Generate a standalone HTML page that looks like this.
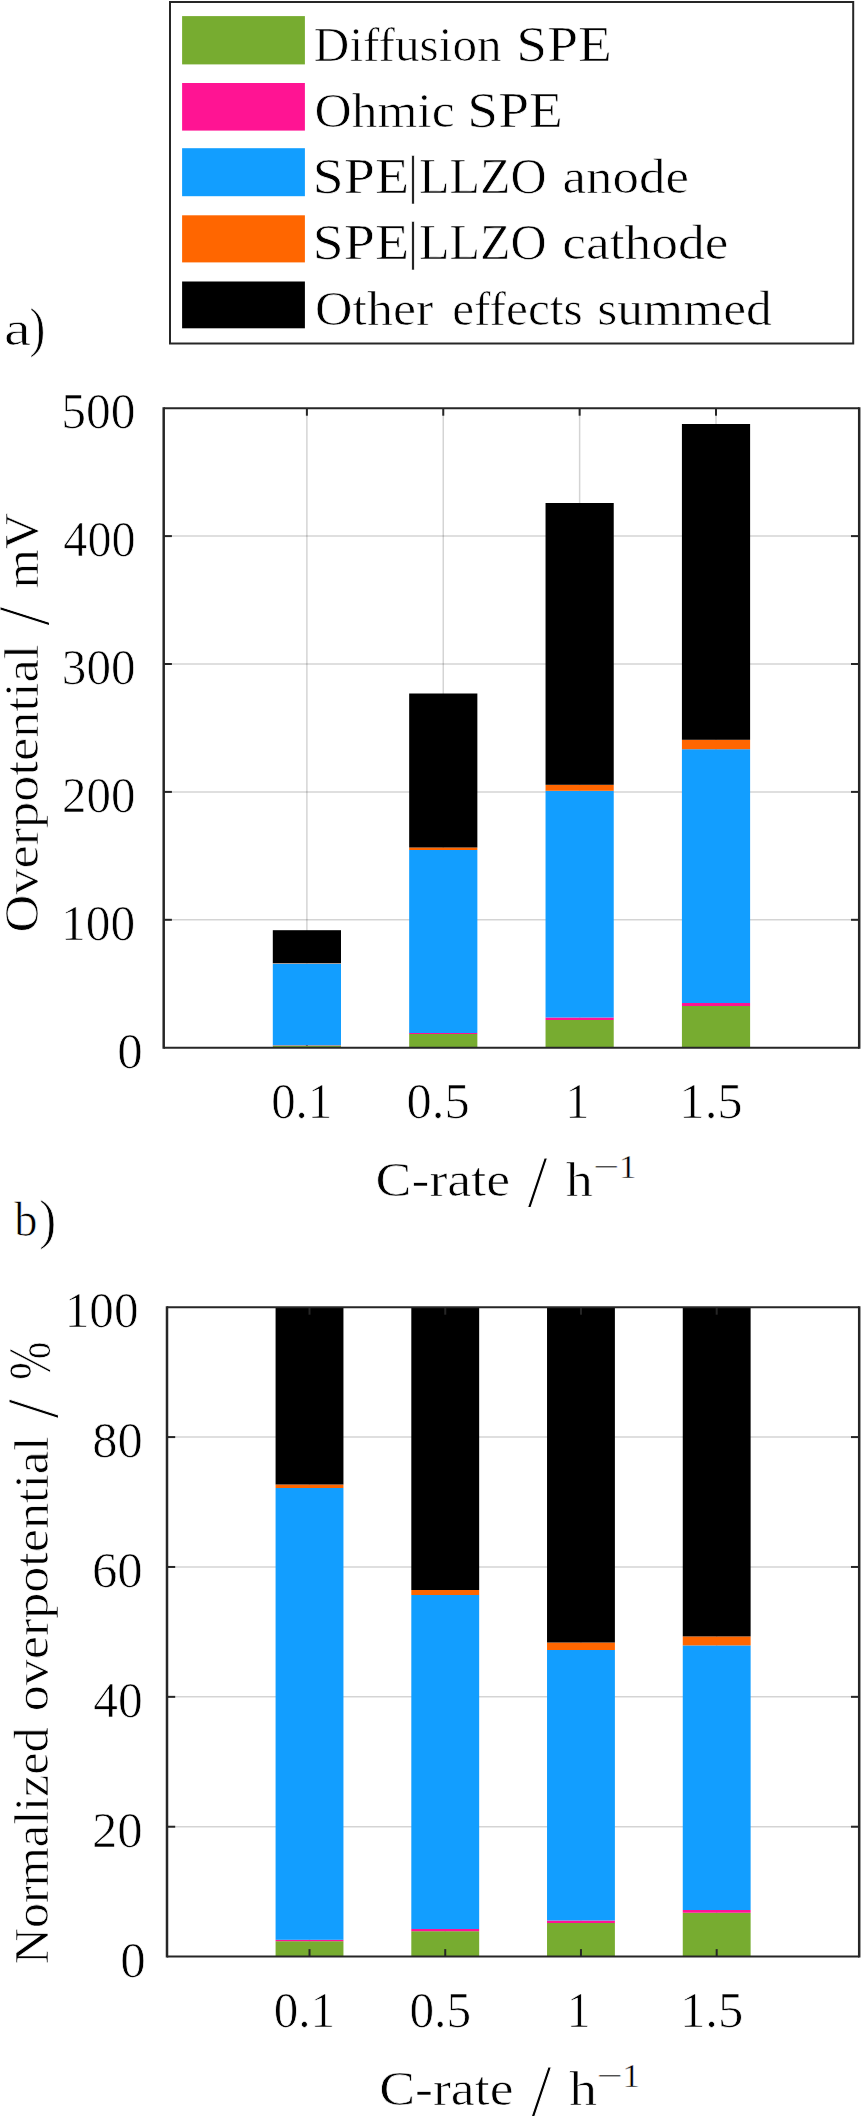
<!DOCTYPE html>
<html lang="en"><head><meta charset="utf-8"><title>Overpotential contributions</title>
<style>
html,body{margin:0;padding:0;background:#fff;}
svg{display:block}
text{font-family:"Liberation Serif", "DejaVu Serif", serif;fill:#000;stroke:#fff;stroke-width:0.7px;}
</style></head>
<body>
<svg width="862" height="2118" viewBox="0 0 862 2118">
<rect width="862" height="2118" fill="#fff"/>
<rect x="170.0" y="2.0" width="683.2" height="341.5" fill="#fff" stroke="#262626" stroke-width="2"/>
<rect x="182.10" y="16.10" width="122.80" height="48.30" fill="#77AC30"/>
<rect x="182.10" y="83.00" width="122.80" height="47.60" fill="#FF1493"/>
<rect x="182.10" y="148.20" width="122.80" height="48.00" fill="#129EFF"/>
<rect x="182.10" y="215.30" width="122.80" height="47.10" fill="#FF6600"/>
<rect x="182.10" y="281.50" width="122.80" height="46.80" fill="#000000"/>
<line x1="163.70" y1="919.80" x2="859.20" y2="919.80" stroke="#000" stroke-opacity="0.17" stroke-width="1.5"/>
<line x1="163.70" y1="791.90" x2="859.20" y2="791.90" stroke="#000" stroke-opacity="0.17" stroke-width="1.5"/>
<line x1="163.70" y1="664.00" x2="859.20" y2="664.00" stroke="#000" stroke-opacity="0.17" stroke-width="1.5"/>
<line x1="163.70" y1="536.10" x2="859.20" y2="536.10" stroke="#000" stroke-opacity="0.17" stroke-width="1.5"/>
<line x1="306.89" y1="408.20" x2="306.89" y2="1047.70" stroke="#000" stroke-opacity="0.17" stroke-width="1.5"/>
<line x1="443.26" y1="408.20" x2="443.26" y2="1047.70" stroke="#000" stroke-opacity="0.17" stroke-width="1.5"/>
<line x1="579.64" y1="408.20" x2="579.64" y2="1047.70" stroke="#000" stroke-opacity="0.17" stroke-width="1.5"/>
<line x1="716.01" y1="408.20" x2="716.01" y2="1047.70" stroke="#000" stroke-opacity="0.17" stroke-width="1.5"/>
<line x1="306.89" y1="1040.20" x2="306.89" y2="1047.70" stroke="#262626" stroke-width="2"/>
<line x1="443.26" y1="1040.20" x2="443.26" y2="1047.70" stroke="#262626" stroke-width="2"/>
<line x1="579.64" y1="1040.20" x2="579.64" y2="1047.70" stroke="#262626" stroke-width="2"/>
<line x1="716.01" y1="1040.20" x2="716.01" y2="1047.70" stroke="#262626" stroke-width="2"/>
<rect x="272.80" y="1045.50" width="68.19" height="2.20" fill="#77AC30"/>
<rect x="272.80" y="1045.20" width="68.19" height="0.30" fill="#FF1493"/>
<rect x="272.80" y="963.40" width="68.19" height="81.80" fill="#129EFF"/>
<rect x="272.80" y="963.00" width="68.19" height="0.40" fill="#FF6600"/>
<rect x="272.80" y="930.20" width="68.19" height="32.80" fill="#000000"/>
<rect x="409.17" y="1034.00" width="68.19" height="13.70" fill="#77AC30"/>
<rect x="409.17" y="1033.00" width="68.19" height="1.00" fill="#FF1493"/>
<rect x="409.17" y="850.00" width="68.19" height="183.00" fill="#129EFF"/>
<rect x="409.17" y="847.50" width="68.19" height="2.50" fill="#FF6600"/>
<rect x="409.17" y="693.50" width="68.19" height="154.00" fill="#000000"/>
<rect x="545.54" y="1020.00" width="68.19" height="27.70" fill="#77AC30"/>
<rect x="545.54" y="1017.50" width="68.19" height="2.50" fill="#FF1493"/>
<rect x="545.54" y="790.80" width="68.19" height="226.70" fill="#129EFF"/>
<rect x="545.54" y="784.80" width="68.19" height="6.00" fill="#FF6600"/>
<rect x="545.54" y="503.00" width="68.19" height="281.80" fill="#000000"/>
<rect x="681.92" y="1006.00" width="68.19" height="41.70" fill="#77AC30"/>
<rect x="681.92" y="1003.00" width="68.19" height="3.00" fill="#FF1493"/>
<rect x="681.92" y="749.20" width="68.19" height="253.80" fill="#129EFF"/>
<rect x="681.92" y="739.80" width="68.19" height="9.40" fill="#FF6600"/>
<rect x="681.92" y="424.00" width="68.19" height="315.80" fill="#000000"/>
<line x1="163.70" y1="919.80" x2="171.90" y2="919.80" stroke="#262626" stroke-width="2"/>
<line x1="851.00" y1="919.80" x2="859.20" y2="919.80" stroke="#262626" stroke-width="2"/>
<line x1="163.70" y1="791.90" x2="171.90" y2="791.90" stroke="#262626" stroke-width="2"/>
<line x1="851.00" y1="791.90" x2="859.20" y2="791.90" stroke="#262626" stroke-width="2"/>
<line x1="163.70" y1="664.00" x2="171.90" y2="664.00" stroke="#262626" stroke-width="2"/>
<line x1="851.00" y1="664.00" x2="859.20" y2="664.00" stroke="#262626" stroke-width="2"/>
<line x1="163.70" y1="536.10" x2="171.90" y2="536.10" stroke="#262626" stroke-width="2"/>
<line x1="851.00" y1="536.10" x2="859.20" y2="536.10" stroke="#262626" stroke-width="2"/>
<line x1="306.89" y1="408.20" x2="306.89" y2="415.70" stroke="#262626" stroke-width="2"/>
<line x1="443.26" y1="408.20" x2="443.26" y2="415.70" stroke="#262626" stroke-width="2"/>
<line x1="579.64" y1="408.20" x2="579.64" y2="415.70" stroke="#262626" stroke-width="2"/>
<line x1="716.01" y1="408.20" x2="716.01" y2="415.70" stroke="#262626" stroke-width="2"/>
<line x1="163.70" y1="407.20" x2="163.70" y2="1048.70" stroke="#262626" stroke-width="2.5"/>
<line x1="859.20" y1="407.20" x2="859.20" y2="1048.70" stroke="#262626" stroke-width="2.5"/>
<line x1="163.70" y1="408.20" x2="859.20" y2="408.20" stroke="#262626" stroke-width="2"/>
<line x1="163.70" y1="1047.70" x2="859.20" y2="1047.70" stroke="#262626" stroke-width="2"/>
<line x1="167.00" y1="1826.72" x2="859.20" y2="1826.72" stroke="#000" stroke-opacity="0.17" stroke-width="1.5"/>
<line x1="167.00" y1="1696.84" x2="859.20" y2="1696.84" stroke="#000" stroke-opacity="0.17" stroke-width="1.5"/>
<line x1="167.00" y1="1566.96" x2="859.20" y2="1566.96" stroke="#000" stroke-opacity="0.17" stroke-width="1.5"/>
<line x1="167.00" y1="1437.08" x2="859.20" y2="1437.08" stroke="#000" stroke-opacity="0.17" stroke-width="1.5"/>
<line x1="309.51" y1="1307.20" x2="309.51" y2="1956.60" stroke="#000" stroke-opacity="0.17" stroke-width="1.5"/>
<line x1="445.24" y1="1307.20" x2="445.24" y2="1956.60" stroke="#000" stroke-opacity="0.17" stroke-width="1.5"/>
<line x1="580.96" y1="1307.20" x2="580.96" y2="1956.60" stroke="#000" stroke-opacity="0.17" stroke-width="1.5"/>
<line x1="716.69" y1="1307.20" x2="716.69" y2="1956.60" stroke="#000" stroke-opacity="0.17" stroke-width="1.5"/>
<rect x="275.58" y="1941.20" width="67.86" height="15.40" fill="#77AC30"/>
<rect x="275.58" y="1939.80" width="67.86" height="1.40" fill="#FF1493"/>
<rect x="275.58" y="1488.00" width="67.86" height="451.80" fill="#129EFF"/>
<rect x="275.58" y="1484.50" width="67.86" height="3.50" fill="#FF6600"/>
<rect x="275.58" y="1307.20" width="67.86" height="177.30" fill="#000000"/>
<rect x="411.31" y="1931.20" width="67.86" height="25.40" fill="#77AC30"/>
<rect x="411.31" y="1929.00" width="67.86" height="2.20" fill="#FF1493"/>
<rect x="411.31" y="1595.00" width="67.86" height="334.00" fill="#129EFF"/>
<rect x="411.31" y="1590.00" width="67.86" height="5.00" fill="#FF6600"/>
<rect x="411.31" y="1307.20" width="67.86" height="282.80" fill="#000000"/>
<rect x="547.03" y="1923.00" width="67.86" height="33.60" fill="#77AC30"/>
<rect x="547.03" y="1920.50" width="67.86" height="2.50" fill="#FF1493"/>
<rect x="547.03" y="1650.00" width="67.86" height="270.50" fill="#129EFF"/>
<rect x="547.03" y="1642.50" width="67.86" height="7.50" fill="#FF6600"/>
<rect x="547.03" y="1307.20" width="67.86" height="335.30" fill="#000000"/>
<rect x="682.76" y="1912.75" width="67.86" height="43.85" fill="#77AC30"/>
<rect x="682.76" y="1910.00" width="67.86" height="2.75" fill="#FF1493"/>
<rect x="682.76" y="1645.40" width="67.86" height="264.60" fill="#129EFF"/>
<rect x="682.76" y="1636.40" width="67.86" height="9.00" fill="#FF6600"/>
<rect x="682.76" y="1307.20" width="67.86" height="329.20" fill="#000000"/>
<line x1="167.00" y1="1826.72" x2="175.20" y2="1826.72" stroke="#262626" stroke-width="2"/>
<line x1="851.00" y1="1826.72" x2="859.20" y2="1826.72" stroke="#262626" stroke-width="2"/>
<line x1="167.00" y1="1696.84" x2="175.20" y2="1696.84" stroke="#262626" stroke-width="2"/>
<line x1="851.00" y1="1696.84" x2="859.20" y2="1696.84" stroke="#262626" stroke-width="2"/>
<line x1="167.00" y1="1566.96" x2="175.20" y2="1566.96" stroke="#262626" stroke-width="2"/>
<line x1="851.00" y1="1566.96" x2="859.20" y2="1566.96" stroke="#262626" stroke-width="2"/>
<line x1="167.00" y1="1437.08" x2="175.20" y2="1437.08" stroke="#262626" stroke-width="2"/>
<line x1="851.00" y1="1437.08" x2="859.20" y2="1437.08" stroke="#262626" stroke-width="2"/>
<line x1="309.51" y1="1307.20" x2="309.51" y2="1314.70" stroke="#262626" stroke-width="2"/>
<line x1="309.51" y1="1949.10" x2="309.51" y2="1956.60" stroke="#262626" stroke-width="2"/>
<line x1="445.24" y1="1307.20" x2="445.24" y2="1314.70" stroke="#262626" stroke-width="2"/>
<line x1="445.24" y1="1949.10" x2="445.24" y2="1956.60" stroke="#262626" stroke-width="2"/>
<line x1="580.96" y1="1307.20" x2="580.96" y2="1314.70" stroke="#262626" stroke-width="2"/>
<line x1="580.96" y1="1949.10" x2="580.96" y2="1956.60" stroke="#262626" stroke-width="2"/>
<line x1="716.69" y1="1307.20" x2="716.69" y2="1314.70" stroke="#262626" stroke-width="2"/>
<line x1="716.69" y1="1949.10" x2="716.69" y2="1956.60" stroke="#262626" stroke-width="2"/>
<line x1="167.00" y1="1306.20" x2="167.00" y2="1957.60" stroke="#262626" stroke-width="2.5"/>
<line x1="859.20" y1="1306.20" x2="859.20" y2="1957.60" stroke="#262626" stroke-width="2.5"/>
<line x1="167.00" y1="1307.20" x2="859.20" y2="1307.20" stroke="#262626" stroke-width="2"/>
<line x1="167.00" y1="1956.60" x2="859.20" y2="1956.60" stroke="#262626" stroke-width="2"/>
<text transform="matrix(0.9846 0 0 0.9700 313.83 60.50)" font-size="50">Diffusion</text>
<text transform="matrix(1.1101 0 0 1.0200 516.36 60.50)" font-size="50">SPE</text>
<text transform="matrix(1.0296 0 0 0.9700 314.53 126.55)" font-size="50">Ohmic</text>
<text transform="matrix(1.1101 0 0 1.0200 467.26 126.55)" font-size="50">SPE</text>
<text transform="matrix(1.1214 0 0 1.0200 312.62 192.60)" font-size="50">SPE</text>
<text transform="matrix(1.0000 0 0 1.0616 408.10 192.71)" font-size="50">|</text>
<text transform="matrix(0.9996 0 0 1.0200 418.90 192.60)" font-size="50">LLZO</text>
<text transform="matrix(1.1214 0 0 1.0200 312.62 258.65)" font-size="50">SPE</text>
<text transform="matrix(1.0000 0 0 1.0616 408.10 258.76)" font-size="50">|</text>
<text transform="matrix(0.9996 0 0 1.0200 418.90 258.65)" font-size="50">LLZO</text>
<text transform="matrix(1.0589 0 0 0.9700 562.53 192.60)" font-size="50">anode</text>
<text transform="matrix(1.0698 0 0 0.9700 562.24 258.65)" font-size="50">cathode</text>
<text transform="matrix(1.0388 0 0 0.9700 315.11 324.70)" font-size="50">Other</text>
<text transform="matrix(0.9875 0 0 0.9700 452.13 324.70)" font-size="50">effects</text>
<text transform="matrix(1.0298 0 0 0.9700 597.33 324.70)" font-size="50">summed</text>
<text transform="matrix(1.2115 0 0 0.9700 4.02 345.10)" font-size="50">a</text>
<text transform="matrix(0.9516 0 0 1.0946 29.49 345.64)" font-size="50">)</text>
<text transform="matrix(0.9286 0 0 0.9700 14.22 1236.20)" font-size="50">b</text>
<text transform="matrix(1.0161 0 0 1.0968 39.37 1237.51)" font-size="50">)</text>
<text transform="matrix(0.9897 0 0 1.0200 61.05 939.80)" font-size="50">100</text>
<text transform="matrix(0.9793 0 0 1.0200 62.10 811.90)" font-size="50">200</text>
<text transform="matrix(0.9828 0 0 1.0200 61.85 684.00)" font-size="50">300</text>
<text transform="matrix(0.9622 0 0 1.0200 63.35 556.10)" font-size="50">400</text>
<text transform="matrix(0.9899 0 0 1.0200 61.33 428.20)" font-size="50">500</text>
<text transform="matrix(1.0196 0 0 1.0200 117.25 1067.70)" font-size="50">0</text>
<text transform="matrix(1.0166 0 0 1.0200 91.91 1846.72)" font-size="50">20</text>
<text transform="matrix(0.9892 0 0 1.0200 93.21 1716.84)" font-size="50">40</text>
<text transform="matrix(1.0166 0 0 1.0200 91.91 1586.96)" font-size="50">60</text>
<text transform="matrix(1.0110 0 0 1.0200 92.17 1457.08)" font-size="50">80</text>
<text transform="matrix(0.9838 0 0 1.0200 64.78 1327.20)" font-size="50">100</text>
<text transform="matrix(1.0196 0 0 1.0200 120.25 1976.60)" font-size="50">0</text>
<text transform="matrix(0.9772 0 0 1.0200 271.15 1118.40)" font-size="50">0.1</text>
<text transform="matrix(1.0104 0 0 1.0200 406.58 1118.40)" font-size="50">0.5</text>
<text transform="matrix(0.9467 0 0 1.0200 565.46 1118.40)" font-size="50">1</text>
<text transform="matrix(1.0144 0 0 1.0200 679.33 1118.40)" font-size="50">1.5</text>
<text transform="matrix(0.9824 0 0 1.0200 273.64 2027.40)" font-size="50">0.1</text>
<text transform="matrix(0.9862 0 0 1.0200 409.43 2027.40)" font-size="50">0.5</text>
<text transform="matrix(0.9527 0 0 1.0200 566.63 2027.40)" font-size="50">1</text>
<text transform="matrix(1.0144 0 0 1.0200 679.93 2027.40)" font-size="50">1.5</text>
<text transform="matrix(1.0775 0 0 0.9700 375.52 1196.00)" font-size="50">C-rate</text>
<text transform="matrix(1.4449 0 0 1.4855 527.57 1206.70)" font-size="50">/</text>
<text transform="matrix(1.0842 0 0 0.9700 565.83 1196.00)" font-size="50">h</text>
<text transform="matrix(1.4174 0 0 1.0200 592.64 1177.90)" font-size="33" style="stroke-width:0.45px">−</text>
<text transform="matrix(1.0594 0 0 1.0200 618.94 1177.90)" font-size="33" style="stroke-width:0.45px">1</text>
<text transform="matrix(1.0758 0 0 0.9700 379.13 2105.00)" font-size="50">C-rate</text>
<text transform="matrix(1.4525 0 0 1.4855 531.16 2115.70)" font-size="50">/</text>
<text transform="matrix(1.1274 0 0 0.9700 569.00 2105.00)" font-size="50">h</text>
<text transform="matrix(1.4174 0 0 1.0200 596.14 2086.90)" font-size="33" style="stroke-width:0.45px">−</text>
<text transform="matrix(1.0594 0 0 1.0200 622.44 2086.90)" font-size="33" style="stroke-width:0.45px">1</text>
<text transform="matrix(0 -1.0475 0.9700 0 38.00 932.61)" font-size="50">Overpotential</text>
<text transform="matrix(0 -1.3764 1.4885 0 49.40 625.71)" font-size="50">/</text>
<text transform="matrix(0 -1.0027 0.9700 0 38.00 588.30)" font-size="50">mV</text>
<text transform="matrix(0 -1.0047 0.9700 0 47.60 1964.31)" font-size="50">Normalized</text>
<text transform="matrix(0 -1.0417 0.9700 0 47.60 1711.30)" font-size="50">overpotential</text>
<text transform="matrix(0 -1.3992 1.4732 0 58.21 1418.42)" font-size="50">/</text>
<text transform="matrix(0 -0.9243 1.2187 0 49.65 1379.89)" font-size="50">%</text>
</svg>
</body></html>
